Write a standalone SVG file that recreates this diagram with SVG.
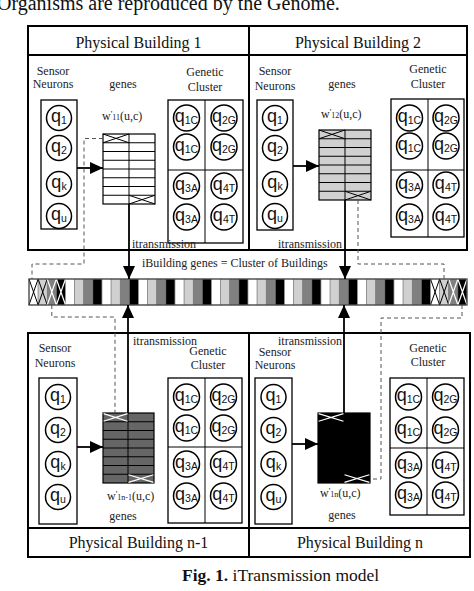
<svg xmlns="http://www.w3.org/2000/svg" width="474" height="591" viewBox="0 0 474 591">
<style>
.bg{fill:#fff}
.frame{fill:none;stroke:#000;stroke-width:2}
.box{fill:#fff;stroke:#000;stroke-width:1.3}
.c{fill:#fff;stroke:#000;stroke-width:1.5}
.q{font-family:"Liberation Sans",Arial,sans-serif;font-size:18px;text-anchor:middle;fill:#111}
.t{font-family:"Liberation Serif","Times New Roman",serif;font-size:12px;fill:#222}
.m{text-anchor:middle}
.e{text-anchor:end}
.title{font-family:"Liberation Serif","Times New Roman",serif;font-size:16px;fill:#111;text-anchor:middle}
.dash{fill:none;stroke:#555;stroke-width:1;stroke-dasharray:4 3}
.conn{fill:none;stroke:#000;stroke-width:1.8}
.gl{fill:none;stroke:#000;stroke-width:1}
.xw{stroke:#fff;stroke-width:1.2}
.xb{stroke:#000;stroke-width:1}
.cw{fill:#fff}.cl{fill:#d0d0d0}.cd{fill:#808080}.ck{fill:#000}
.cells rect{stroke:#777;stroke-width:0.6}
</style>
<defs>
<marker id="ah" viewBox="0 0 13 12" markerWidth="13" markerHeight="12" refX="13" refY="6" orient="auto" markerUnits="userSpaceOnUse"><path d="M0,0 L13,6 L0,12 z" fill="#000"/></marker>
</defs>
<rect class="bg" x="0" y="0" width="474" height="591"/>
<text x="-3" y="10" font-family="Liberation Serif, Times New Roman, serif" font-size="20" fill="#111">Organisms are reproduced by the Genome.</text>

<!-- Building 1 -->
<g id="building1">
<rect class="frame" x="28" y="26" width="221" height="224"/>
<line class="frame" x1="28" y1="55" x2="249" y2="55"/>
<text class="title" x="138.5" y="48">Physical Building 1</text>
<text class="t m" x="53" y="75">Sensor</text>
<text class="t m" x="53" y="88">Neurons</text>
<text class="t m" x="123" y="88">genes</text>
<text class="t m" x="205" y="76">Genetic</text>
<text class="t m" x="205" y="91">Cluster</text>
<g id="b1-sensor">
<rect class="box" x="41" y="100" width="36" height="129"/>
<circle class="c" cx="59" cy="118" r="12.5"/><text class="q" x="59" y="122">q<tspan font-size="10.5" dy="2">1</tspan></text>
<circle class="c" cx="59" cy="148" r="12.5"/><text class="q" x="59" y="152">q<tspan font-size="10.5" dy="2">2</tspan></text>
<circle class="c" cx="59" cy="184" r="12.5"/><text class="q" x="59" y="188">q<tspan font-size="10.5" dy="2">k</tspan></text>
<circle class="c" cx="59" cy="216" r="12.5"/><text class="q" x="59" y="220">q<tspan font-size="10.5" dy="2">u</tspan></text>
</g>
<g id="b1-genes">
<text class="t" x="102" y="120">w<tspan font-size="9" dy="-3">'</tspan><tspan font-size="8" dy="3">11</tspan>(u,c)</text>
<rect x="103" y="134" width="52" height="70" fill="#fff" stroke="#000" stroke-width="1.2"/>
<path class="gl" d="M129,134V204M103,142.75H155M103,151.5H155M103,160.25H155M103,169H155M103,177.75H155M103,186.5H155M103,195.25H155"/>
<path class="xb" d="M103,134L129,142.75M129,134L103,142.75M129,195.25L155,204M155,195.25L129,204"/>
</g>
<g id="b1-cluster">
<rect class="box" x="168" y="100" width="75" height="143"/>
<path class="gl" d="M205,100V243M168,170H243"/>
<circle class="c" cx="186.5" cy="118" r="13"/><text class="q" x="186.5" y="122">q<tspan font-size="10.5" dy="2">1C</tspan></text>
<circle class="c" cx="224" cy="118" r="13"/><text class="q" x="224" y="122">q<tspan font-size="10.5" dy="2">2G</tspan></text>
<circle class="c" cx="186.5" cy="147" r="13"/><text class="q" x="186.5" y="151">q<tspan font-size="10.5" dy="2">1C</tspan></text>
<circle class="c" cx="224" cy="147" r="13"/><text class="q" x="224" y="151">q<tspan font-size="10.5" dy="2">2G</tspan></text>
<circle class="c" cx="186.5" cy="186" r="13"/><text class="q" x="186.5" y="190">q<tspan font-size="10.5" dy="2">3A</tspan></text>
<circle class="c" cx="224" cy="186" r="13"/><text class="q" x="224" y="190">q<tspan font-size="10.5" dy="2">4T</tspan></text>
<circle class="c" cx="186.5" cy="217" r="13"/><text class="q" x="186.5" y="221">q<tspan font-size="10.5" dy="2">3A</tspan></text>
<circle class="c" cx="224" cy="217" r="13"/><text class="q" x="224" y="221">q<tspan font-size="10.5" dy="2">4T</tspan></text>
</g>
</g>

<!-- Building 2 -->
<g id="building2">
<rect class="frame" x="249" y="26" width="218" height="224"/>
<line class="frame" x1="249" y1="55" x2="467" y2="55"/>
<text class="title" x="358" y="48">Physical Building 2</text>
<text class="t m" x="275" y="75">Sensor</text>
<text class="t m" x="275" y="90">Neurons</text>
<text class="t m" x="342" y="88">genes</text>
<text class="t m" x="428" y="73">Genetic</text>
<text class="t m" x="428" y="88">Cluster</text>
<g id="b2-sensor">
<rect class="box" x="257" y="100" width="36" height="130"/>
<circle class="c" cx="275" cy="118" r="12.5"/><text class="q" x="275" y="122">q<tspan font-size="10.5" dy="2">1</tspan></text>
<circle class="c" cx="275" cy="148" r="12.5"/><text class="q" x="275" y="152">q<tspan font-size="10.5" dy="2">2</tspan></text>
<circle class="c" cx="275" cy="184" r="12.5"/><text class="q" x="275" y="188">q<tspan font-size="10.5" dy="2">k</tspan></text>
<circle class="c" cx="275" cy="216" r="12.5"/><text class="q" x="275" y="220">q<tspan font-size="10.5" dy="2">u</tspan></text>
</g>
<g id="b2-genes">
<text class="t" x="321" y="118">w<tspan font-size="9" dy="-3">'</tspan><tspan font-size="8" dy="3">12</tspan>(u,c)</text>
<rect x="319" y="130" width="52" height="70" fill="#d0d0d0" stroke="#000" stroke-width="1.2"/>
<path class="gl" d="M345,130V200M319,138.75H371M319,147.5H371M319,156.25H371M319,165H371M319,173.75H371M319,182.5H371M319,191.25H371"/>
<path class="xb" d="M319,130L345,138.75M345,130L319,138.75M345,191.25L371,200M371,191.25L345,200"/>
</g>
<g id="b2-cluster">
<rect class="box" x="391" y="99" width="73" height="138"/>
<path class="gl" d="M428,99V237M391,170H464"/>
<circle class="c" cx="409.5" cy="118" r="13"/><text class="q" x="409.5" y="122">q<tspan font-size="10.5" dy="2">1C</tspan></text>
<circle class="c" cx="446" cy="118" r="13"/><text class="q" x="446" y="122">q<tspan font-size="10.5" dy="2">2G</tspan></text>
<circle class="c" cx="409.5" cy="146" r="13"/><text class="q" x="409.5" y="150">q<tspan font-size="10.5" dy="2">1C</tspan></text>
<circle class="c" cx="446" cy="146" r="13"/><text class="q" x="446" y="150">q<tspan font-size="10.5" dy="2">2G</tspan></text>
<circle class="c" cx="409.5" cy="185" r="13"/><text class="q" x="409.5" y="189">q<tspan font-size="10.5" dy="2">3A</tspan></text>
<circle class="c" cx="446" cy="185" r="13"/><text class="q" x="446" y="189">q<tspan font-size="10.5" dy="2">4T</tspan></text>
<circle class="c" cx="409.5" cy="217" r="13"/><text class="q" x="409.5" y="221">q<tspan font-size="10.5" dy="2">3A</tspan></text>
<circle class="c" cx="446" cy="217" r="13"/><text class="q" x="446" y="221">q<tspan font-size="10.5" dy="2">4T</tspan></text>
</g>
</g>

<!-- Genome strip -->
<g id="strip">
<g class="cells">
<rect class="cw" x="29" y="279" width="9.125" height="26"/>
<rect class="cl" x="38.125" y="279" width="9.125" height="26"/>
<rect class="cd" x="47.25" y="279" width="9.125" height="26"/>
<rect class="ck" x="56.375" y="279" width="9.125" height="26"/>
<rect class="cw" x="65.5" y="279" width="9.125" height="26"/><rect class="cl" x="74.625" y="279" width="9.125" height="26"/><rect class="cd" x="83.75" y="279" width="9.125" height="26"/><rect class="ck" x="92.875" y="279" width="9.125" height="26"/>
<rect class="cw" x="102" y="279" width="9.125" height="26"/><rect class="cl" x="111.125" y="279" width="9.125" height="26"/><rect class="cd" x="120.25" y="279" width="9.125" height="26"/><rect class="ck" x="129.375" y="279" width="9.125" height="26"/>
<rect class="cw" x="138.5" y="279" width="9.125" height="26"/><rect class="cl" x="147.625" y="279" width="9.125" height="26"/><rect class="cd" x="156.75" y="279" width="9.125" height="26"/><rect class="ck" x="165.875" y="279" width="9.125" height="26"/>
<rect class="cw" x="175" y="279" width="9.125" height="26"/><rect class="cl" x="184.125" y="279" width="9.125" height="26"/><rect class="cd" x="193.25" y="279" width="9.125" height="26"/><rect class="ck" x="202.375" y="279" width="9.125" height="26"/>
<rect class="cw" x="211.5" y="279" width="9.125" height="26"/><rect class="cl" x="220.625" y="279" width="9.125" height="26"/><rect class="cd" x="229.75" y="279" width="9.125" height="26"/><rect class="ck" x="238.875" y="279" width="9.125" height="26"/>
<rect class="cw" x="248" y="279" width="9.125" height="26"/><rect class="cl" x="257.125" y="279" width="9.125" height="26"/><rect class="cd" x="266.25" y="279" width="9.125" height="26"/><rect class="ck" x="275.375" y="279" width="9.125" height="26"/>
<rect class="cw" x="284.5" y="279" width="9.125" height="26"/><rect class="cl" x="293.625" y="279" width="9.125" height="26"/><rect class="cd" x="302.75" y="279" width="9.125" height="26"/><rect class="ck" x="311.875" y="279" width="9.125" height="26"/>
<rect class="cw" x="321" y="279" width="9.125" height="26"/><rect class="cl" x="330.125" y="279" width="9.125" height="26"/><rect class="cd" x="339.25" y="279" width="9.125" height="26"/><rect class="ck" x="348.375" y="279" width="9.125" height="26"/>
<rect class="cw" x="357.5" y="279" width="9.125" height="26"/><rect class="cl" x="366.625" y="279" width="9.125" height="26"/><rect class="cd" x="375.75" y="279" width="9.125" height="26"/><rect class="ck" x="384.875" y="279" width="9.125" height="26"/>
<rect class="cw" x="394" y="279" width="9.125" height="26"/><rect class="cl" x="403.125" y="279" width="9.125" height="26"/><rect class="cd" x="412.25" y="279" width="9.125" height="26"/><rect class="ck" x="421.375" y="279" width="9.125" height="26"/>
<rect class="cw" x="430.5" y="279" width="9.125" height="26"/>
<rect class="cl" x="439.625" y="279" width="9.125" height="26"/>
<rect class="cd" x="448.75" y="279" width="9.125" height="26"/>
<rect class="ck" x="457.875" y="279" width="9.125" height="26"/>
</g>
<path class="xb" d="M29,279L38.125,305M38.125,279L29,305M38.125,279L47.25,305M47.25,279L38.125,305M430.5,279L439.625,305M439.625,279L430.5,305M439.625,279L448.75,305M448.75,279L439.625,305"/>
<path class="xw" d="M47.25,279L56.375,305M56.375,279L47.25,305M56.375,279L65.5,305M65.5,279L56.375,305M448.75,279L457.875,305M457.875,279L448.75,305M457.875,279L467,305M467,279L457.875,305"/>
<rect x="29" y="279" width="438" height="26" fill="none" stroke="#444" stroke-width="1.2"/>
</g>

<!-- Building n-1 -->
<g id="building-n-1">
<rect class="frame" x="28" y="333" width="221" height="224"/>
<line class="frame" x1="28" y1="528" x2="249" y2="528"/>
<text class="title" x="138.5" y="548">Physical Building n-1</text>
<text class="t m" x="55" y="352">Sensor</text>
<text class="t m" x="55" y="367">Neurons</text>
<text class="t m" x="208" y="355">Genetic</text>
<text class="t m" x="208" y="369">Cluster</text>
<text class="t m" x="123" y="520">genes</text>
<g id="bn1-sensor">
<rect class="box" x="39" y="378" width="38" height="146"/>
<circle class="c" cx="58" cy="397" r="12.5"/><text class="q" x="58" y="401">q<tspan font-size="10.5" dy="2">1</tspan></text>
<circle class="c" cx="58" cy="430" r="12.5"/><text class="q" x="58" y="434">q<tspan font-size="10.5" dy="2">2</tspan></text>
<circle class="c" cx="58" cy="464" r="12.5"/><text class="q" x="58" y="468">q<tspan font-size="10.5" dy="2">k</tspan></text>
<circle class="c" cx="58" cy="497" r="12.5"/><text class="q" x="58" y="501">q<tspan font-size="10.5" dy="2">u</tspan></text>
</g>
<g id="bn1-genes">
<rect x="103" y="413" width="51" height="70" fill="#666" stroke="#000" stroke-width="1.2"/>
<path class="gl" d="M128,413V483M103,421.75H154M103,430.5H154M103,439.25H154M103,448H154M103,456.75H154M103,465.5H154M103,474.25H154"/>
<path class="xw" d="M103.6,413.6L127.5,421.2M127.5,413.6L103.6,421.2M128.5,474.8L153.4,482.4M153.4,474.8L128.5,482.4"/>
<text class="t" x="107" y="500">w<tspan font-size="9" dy="-3">'</tspan><tspan font-size="8" dy="3">1n-1</tspan>(u,c)</text>
</g>
<g id="bn1-cluster">
<rect class="box" x="168" y="378" width="74" height="145"/>
<path class="gl" d="M205,378V523M168,447H242"/>
<circle class="c" cx="186.5" cy="397" r="13"/><text class="q" x="186.5" y="401">q<tspan font-size="10.5" dy="2">1C</tspan></text>
<circle class="c" cx="223.5" cy="397" r="13"/><text class="q" x="223.5" y="401">q<tspan font-size="10.5" dy="2">2G</tspan></text>
<circle class="c" cx="186.5" cy="428" r="13"/><text class="q" x="186.5" y="432">q<tspan font-size="10.5" dy="2">1C</tspan></text>
<circle class="c" cx="223.5" cy="428" r="13"/><text class="q" x="223.5" y="432">q<tspan font-size="10.5" dy="2">2G</tspan></text>
<circle class="c" cx="186.5" cy="464" r="13"/><text class="q" x="186.5" y="468">q<tspan font-size="10.5" dy="2">3A</tspan></text>
<circle class="c" cx="223.5" cy="464" r="13"/><text class="q" x="223.5" y="468">q<tspan font-size="10.5" dy="2">4T</tspan></text>
<circle class="c" cx="186.5" cy="496" r="13"/><text class="q" x="186.5" y="500">q<tspan font-size="10.5" dy="2">3A</tspan></text>
<circle class="c" cx="223.5" cy="496" r="13"/><text class="q" x="223.5" y="500">q<tspan font-size="10.5" dy="2">4T</tspan></text>
</g>
</g>

<!-- Building n -->
<g id="building-n">
<rect class="frame" x="249" y="333" width="221" height="224"/>
<line class="frame" x1="249" y1="528" x2="470" y2="528"/>
<text class="title" x="360" y="548">Physical Building n</text>
<text class="t m" x="275" y="356">Sensor</text>
<text class="t m" x="275" y="369">Neurons</text>
<text class="t m" x="428" y="352">Genetic</text>
<text class="t m" x="428" y="366">Cluster</text>
<text class="t m" x="342" y="519">genes</text>
<g id="bn-sensor">
<rect class="box" x="255" y="378" width="37" height="146"/>
<circle class="c" cx="273.5" cy="397" r="12.5"/><text class="q" x="273.5" y="401">q<tspan font-size="10.5" dy="2">1</tspan></text>
<circle class="c" cx="273.5" cy="430" r="12.5"/><text class="q" x="273.5" y="434">q<tspan font-size="10.5" dy="2">2</tspan></text>
<circle class="c" cx="273.5" cy="464" r="12.5"/><text class="q" x="273.5" y="468">q<tspan font-size="10.5" dy="2">k</tspan></text>
<circle class="c" cx="273.5" cy="497" r="12.5"/><text class="q" x="273.5" y="501">q<tspan font-size="10.5" dy="2">u</tspan></text>
</g>
<g id="bn-genes">
<rect x="318" y="413" width="52" height="70" fill="#000" stroke="#000" stroke-width="1.2"/>
<path class="xw" d="M318.6,413.6L343.5,421.2M343.5,413.6L318.6,421.2M344.5,474.8L369.4,482.4M369.4,474.8L344.5,482.4"/>
<text class="t" x="320" y="497">w<tspan font-size="9" dy="-3">'</tspan><tspan font-size="8" dy="3">1n</tspan>(u,c)</text>
</g>
<g id="bn-cluster">
<rect class="box" x="390" y="378" width="74" height="137"/>
<path class="gl" d="M427,378V515M390,448H464"/>
<circle class="c" cx="408.5" cy="397" r="13"/><text class="q" x="408.5" y="401">q<tspan font-size="10.5" dy="2">1C</tspan></text>
<circle class="c" cx="445.5" cy="397" r="13"/><text class="q" x="445.5" y="401">q<tspan font-size="10.5" dy="2">2G</tspan></text>
<circle class="c" cx="408.5" cy="430" r="13"/><text class="q" x="408.5" y="434">q<tspan font-size="10.5" dy="2">1C</tspan></text>
<circle class="c" cx="445.5" cy="430" r="13"/><text class="q" x="445.5" y="434">q<tspan font-size="10.5" dy="2">2G</tspan></text>
<circle class="c" cx="408.5" cy="465" r="13"/><text class="q" x="408.5" y="469">q<tspan font-size="10.5" dy="2">3A</tspan></text>
<circle class="c" cx="445.5" cy="465" r="13"/><text class="q" x="445.5" y="469">q<tspan font-size="10.5" dy="2">4T</tspan></text>
<circle class="c" cx="408.5" cy="495" r="13"/><text class="q" x="408.5" y="499">q<tspan font-size="10.5" dy="2">3A</tspan></text>
<circle class="c" cx="445.5" cy="495" r="13"/><text class="q" x="445.5" y="499">q<tspan font-size="10.5" dy="2">4T</tspan></text>
</g>
</g>

<!-- Connectors -->
<g id="connectors">
<line class="conn" x1="77" y1="168" x2="103" y2="168" marker-end="url(#ah)"/>
<line class="conn" x1="293" y1="166" x2="319" y2="166" marker-end="url(#ah)"/>
<line class="conn" x1="77" y1="447" x2="103" y2="447" marker-end="url(#ah)"/>
<line class="conn" x1="292" y1="444" x2="318" y2="444" marker-end="url(#ah)"/>
<line class="conn" x1="129" y1="204" x2="129" y2="279" marker-end="url(#ah)"/>
<line class="conn" x1="345" y1="200" x2="345" y2="279" marker-end="url(#ah)"/>
<line class="conn" x1="128" y1="413" x2="128" y2="305" marker-end="url(#ah)"/>
<line class="conn" x1="344" y1="413" x2="344" y2="305" marker-end="url(#ah)"/>
<path class="dash" d="M103,138.5H84V264H32V279"/>
<path class="dash" d="M358,200V264H444V279"/>
<path class="dash" d="M51.8,305V317H115V413"/>
<path class="dash" d="M462,305V318H381V479H370"/>
</g>

<text class="t" x="132" y="248">itransmission</text>
<text class="t e" x="342" y="248">itransmission</text>
<text class="t" x="142" y="267">iBuilding genes = Cluster of Buildings</text>
<text class="t" x="133" y="345">itransmission</text>
<text class="t e" x="342" y="345">itransmission</text>
<text x="182" y="581" font-family="Liberation Serif, Times New Roman, serif" font-size="17.5" fill="#111"><tspan font-weight="bold">Fig. 1.</tspan> iTransmission model</text>
</svg>
